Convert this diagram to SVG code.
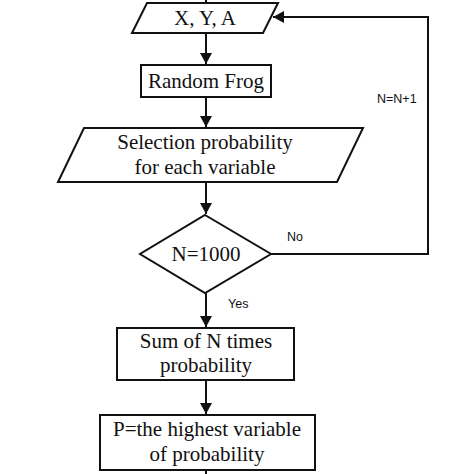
<svg xmlns="http://www.w3.org/2000/svg" width="474" height="474" viewBox="0 0 474 474">
<defs>
<marker id="ah" markerWidth="12" markerHeight="12" refX="11" refY="6" orient="auto" markerUnits="userSpaceOnUse">
<path d="M0,0 L11,6 L0,12 Z" fill="#111"/>
</marker>
<style>
.shape{fill:#fff;stroke:#111;stroke-width:2}
.conn{fill:none;stroke:#111;stroke-width:2}
.t{font-family:"Liberation Serif","Times New Roman",serif;font-size:21px;fill:#111;text-anchor:middle}
.s{font-family:"Liberation Sans",Arial,sans-serif;font-size:12.5px;fill:#111}
</style>
</defs>
<rect width="474" height="474" fill="#fff"/>
<g id="connectors">
<line class="conn" x1="206" y1="0" x2="206" y2="3"/>
<line class="conn" x1="206" y1="33" x2="206" y2="64" marker-end="url(#ah)"/>
<line class="conn" x1="206" y1="97" x2="206" y2="127" marker-end="url(#ah)"/>
<line class="conn" x1="206" y1="182" x2="206" y2="214" marker-end="url(#ah)"/>
<line class="conn" x1="206" y1="293" x2="206" y2="327" marker-end="url(#ah)"/>
<line class="conn" x1="206" y1="380" x2="206" y2="414" marker-end="url(#ah)"/>
<line class="conn" x1="206" y1="470" x2="206" y2="474"/>
<polyline class="conn" points="271,254 428,254 428,17 273,17" marker-end="url(#ah)"/>
<text class="s" x="377" y="103">N=N+1</text>
<text class="s" x="287" y="241">No</text>
<text class="s" x="228" y="308">Yes</text>
</g>
<g id="input">
<polygon class="shape" points="147,3 278,3 263,33 132,33"/>
<text class="t" x="205" y="25">X, Y, A</text>
</g>
<g id="random-frog">
<rect class="shape" x="141" y="65" width="130" height="32"/>
<text class="t" x="206" y="88">Random Frog</text>
</g>
<g id="selection">
<polygon class="shape" points="84,128 363,128 337,182 58,182"/>
<text class="t" x="205" y="149">Selection probability</text>
<text class="t" x="205" y="174">for each variable</text>
</g>
<g id="decision">
<polygon class="shape" points="205,215 271,254 205,293 140,254"/>
<text class="t" x="206" y="261">N=1000</text>
</g>
<g id="sum">
<rect class="shape" x="117" y="328" width="177" height="52"/>
<text class="t" x="206" y="348">Sum of N times</text>
<text class="t" x="206" y="372">probability</text>
</g>
<g id="result">
<rect class="shape" x="100" y="415" width="215" height="55"/>
<text class="t" x="207" y="436">P=the highest variable</text>
<text class="t" x="207" y="461">of probability</text>
</g>
</svg>
